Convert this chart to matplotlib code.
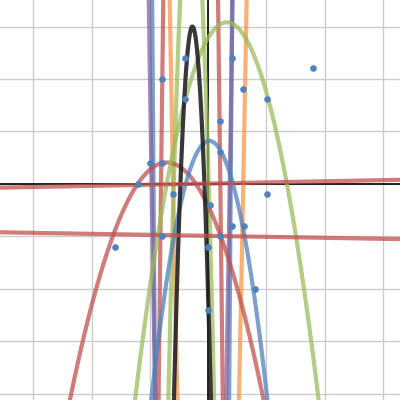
import numpy as np
import matplotlib.pyplot as plt

# scattered points (x, y)
pts_x = [-0.39, 0.41, 1.80, -0.79, 0.60, -0.39, 1.01, 0.21, 0.21, -1.0, -0.79, -1.2,
         -0.6, 1.01, 0.03, 0.41, 0.62, -0.79, 0.21, -1.6, 0.0, 0.81, 0.0]
pts_y = [2.40, 2.40, 2.21, 2.0, 1.81, 1.62, 1.62, 1.20, 0.61, 0.40, 0.40, 0.0,
         -0.2, -0.2, -0.4, -0.8, -0.8, -1.0, -1.0, -1.2, -1.2, -2.0, -2.4]

# parabolas: y = k + a*(x-h)^2  -> (h, k, a, colour)
par_h = [-0.275, -0.30, -0.30, 0.0, -0.29, -0.71, 0.02, 0.32, -0.27]
par_k = [-49.6, -23.1, 23.8, -17.6, 5.83, 0.41, 0.82, 3.08, 3.0]
par_a = [113.0, 51.4, -92.0, 48.5, -64.6, -1.64, -4.97, -2.9, -70.5]
par_c = ['#4f81bd', '#8064a2', '#c0504d', '#f79646', '#9bbb59', '#c0504d', '#4f81bd', '#9bbb59', '#222222']

# straight lines: (y at left edge, y at right edge)
line_y0 = [-0.07, -0.92]
line_y1 = [0.08, -1.05]

xmin, xmax, ymin, ymax = -3.57, 3.29, -4.115, 3.505

fig = plt.figure(figsize=(4, 4), dpi=100)
ax = fig.add_axes([0, 0, 1, 1])
ax.set_xlim(xmin, xmax)
ax.set_ylim(ymin, ymax)
for gx in range(-3, 4):
    ax.axvline(gx, color='#cccccc', lw=1, zorder=0)
for gy in range(-4, 4):
    ax.axhline(gy, color='#cccccc', lw=1, zorder=0)
ax.axhline(0, color='black', lw=1.2, zorder=1)
ax.axvline(0, color='black', lw=1.2, zorder=1)

xs = np.linspace(xmin, xmax, 4000)
for h, k, a, c in zip(par_h, par_k, par_a, par_c):
    alpha = 0.9 if c == '#222222' else 0.75
    ax.plot(xs, k + a * (xs - h) ** 2, color=c, lw=3, alpha=alpha, zorder=2)
for y0, y1 in zip(line_y0, line_y1):
    ax.plot([xmin, xmax], [y0, y1], color='#c0504d', lw=3, alpha=0.75, zorder=2)

ax.scatter(pts_x, pts_y, s=14, color='#4f81bd', zorder=3)
ax.set_xticks([])
ax.set_yticks([])
for s in ax.spines.values():
    s.set_visible(False)
fig.savefig('out.png')
